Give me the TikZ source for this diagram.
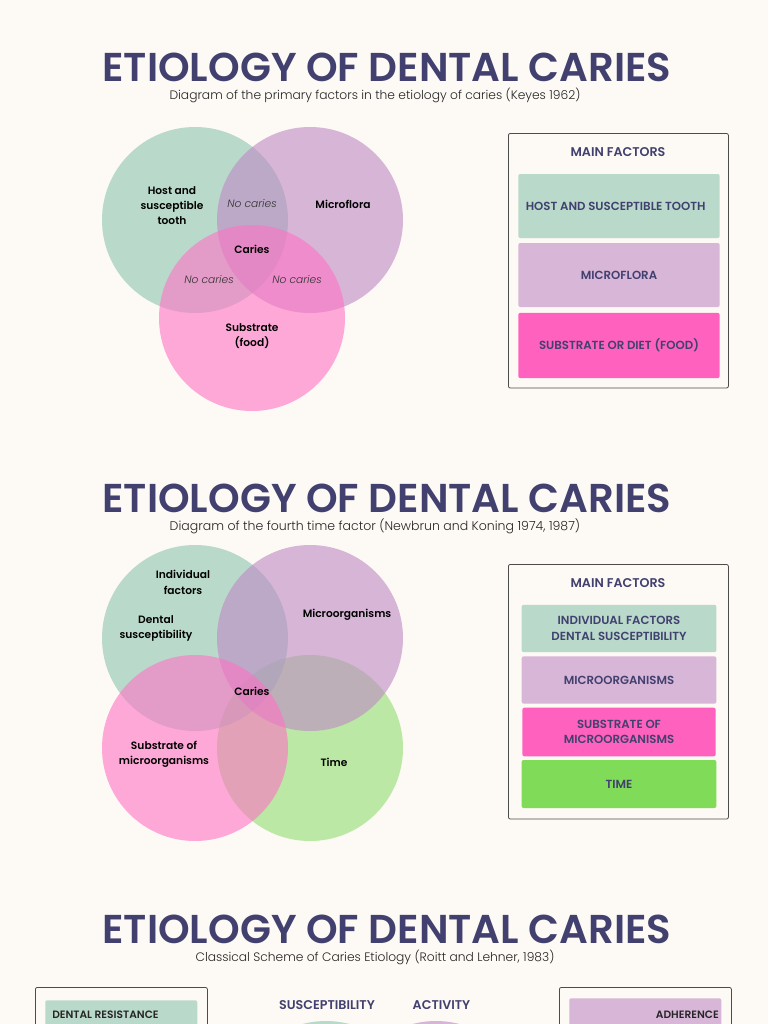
\documentclass[tikz,border=0pt]{standalone}
\usepackage{fontspec}
\setmainfont{Poppins}
\newfontfamily\semifont{Poppins SemiBold}
\newfontfamily\lightfont{Poppins Light}
\usetikzlibrary{positioning}
\definecolor{paper}{HTML}{FDF9F4}
\definecolor{navy}{HTML}{41406F}
\definecolor{teal}{HTML}{B9D9CA}
\definecolor{lilac}{HTML}{D8B6D8}
\definecolor{hotpink}{HTML}{FF62BE}
\definecolor{lime}{HTML}{7FDB58}
\definecolor{tealc}{HTML}{8CC4AE}
\definecolor{lilacc}{HTML}{BF89C5}
\definecolor{pinkc}{HTML}{FF72C5}
\definecolor{limec}{HTML}{8FDD70}
\tikzset{
  titletext/.style={text=navy,inner sep=0pt,text height=20pt,text depth=0pt,font=\semifont\fontsize{30.2}{32}\selectfont},
  subtext/.style={text=black!85,inner sep=0pt,text height=7pt,text depth=2pt,font=\lightfont\fontsize{9.2}{11}\selectfont},
  bubble/.style={circle,minimum size=139.5pt,inner sep=0pt,fill opacity=.6,text opacity=1},
  factorbox/.style={draw=black!70,line width=.6pt,rounded corners=1.5pt,fill=paper,anchor=north west},
  factor/.style={rounded corners=1.5pt,align=center,text=navy,font=\semifont\fontsize{8.8}{11.5}\selectfont,inner sep=0pt},
  head/.style={text=navy,font=\semifont\fontsize{9.5}{10}\selectfont},
  cornerlab/.style={text=black!85,font=\semifont\fontsize{8}{9}\selectfont,inner sep=0pt},
  vennlabel/.style={align=center,text=black,font=\semifont\fontsize{8}{11.5}\selectfont},
  nocaries/.style={text=black!80,font=\lightfont\itshape\fontsize{8}{10}\selectfont}
}
\begin{document}
\begin{tikzpicture}[x=.75pt,y=-.75pt]
  \useasboundingbox (0,0) rectangle (768,1024);
  \fill[paper] (0,0) rectangle (768,1024);

%Titel 1
  \node[titletext] (title1) at (387,68) {ETIOLOGY OF DENTAL CARIES};
  \node[subtext] (sub1) at (375,96) {Diagram of the primary factors in the etiology of caries (Keyes 1962)};

%Cirkler 1
  \node[bubble,fill=tealc] (host) at (195,220) {};
  \node[bubble,fill=lilacc] (micro) at (310,220) {};
  \node[bubble,fill=pinkc] (subs) at (252,318) {};

  \node[vennlabel] (hostlab) at (172,205.5) {Host and\\susceptible\\tooth};
  \node[vennlabel] (microlab) at (343,204) {Microflora};
  \node[vennlabel] (caries1) at (252,249) {Caries};
  \node[vennlabel] (subslab) at (252,336) {Substrate\\(food)};
  \node[nocaries] (no1) at (252,204) {No caries};
  \node[nocaries] (no2) at (209,280) {No caries};
  \node[nocaries] (no3) at (297,280) {No caries};

%Boks 1
  \node[factorbox,minimum width=165pt,minimum height=191pt] (box1) at (508,133) {};
  \node[head] (main1) at (618,152) {MAIN FACTORS};
  \node[factor,fill=teal,minimum width=151pt,minimum height=48pt] (f11) at (619,206) {HOST AND SUSCEPTIBLE TOOTH\hspace*{5pt}};
  \node[factor,fill=lilac,minimum width=151pt,minimum height=48pt] (f12) at (619,275) {MICROFLORA};
  \node[factor,fill=hotpink,minimum width=151pt,minimum height=49pt] (f13) at (619,345.5) {SUBSTRATE OR DIET (FOOD)};

%Titel 2
  \node[titletext] (title2) at (387,499) {ETIOLOGY OF DENTAL CARIES};
  \node[subtext,font=\lightfont\fontsize{9.4}{11}\selectfont] (sub2) at (375,527) {Diagram of the fourth time factor (Newbrun and Koning 1974, 1987)};

%Cirkler 2
  \node[bubble,fill=limec] (time) at (310,748) {};
  \node[bubble,fill=tealc] (indiv) at (195,638) {};
  \node[bubble,fill=lilacc] (orgs) at (310,638) {};
  \node[bubble,fill=pinkc] (subs2) at (195,748) {};

  \node[vennlabel] (indivlab) at (183,582.5) {Individual\\factors};
  \node[vennlabel] (dentlab) at (156,628.5) {Dental\\susceptibility};
  \node[vennlabel] (orgslab) at (347,615) {Microorganisms};
  \node[vennlabel] (caries2) at (252,691) {Caries};
  \node[vennlabel] (subslab2) at (164,754.5) {Substrate of\\microorganisms};
  \node[vennlabel] (timelab) at (334,762) {Time};

%Boks 2
  \node[factorbox,minimum width=165pt,minimum height=191pt] (box2) at (508,564) {};
  \node[head] (main2) at (618,583) {MAIN FACTORS};
  \node[factor,fill=teal,minimum width=146pt,minimum height=35.5pt] (f21) at (619,628.5) {INDIVIDUAL FACTORS\\DENTAL SUSCEPTIBILITY};
  \node[factor,fill=lilac,minimum width=146pt,minimum height=35.5pt] (f22) at (619,680) {MICROORGANISMS};
  \node[factor,fill=hotpink,minimum width=145pt,minimum height=36.5pt] (f23) at (619,732) {SUBSTRATE OF\\MICROORGANISMS};
  \node[factor,fill=lime,minimum width=146pt,minimum height=36pt] (f24) at (619,784) {TIME};

%Titel 3
  \node[titletext] (title3) at (387,930) {ETIOLOGY OF DENTAL CARIES};
  \node[subtext] (sub3) at (375,958) {Classical Scheme of Caries Etiology (Roitt and Lehner, 1983)};

%Nederst
  \node[bubble,fill=tealc] (susc0) at (326,1114) {};
  \node[bubble,fill=lilacc] (activ0) at (436,1114) {};
  \node[head] (susc) at (327,1005) {SUSCEPTIBILITY};
  \node[head] (activ) at (441.5,1005) {ACTIVITY};
  \node[factorbox,minimum width=129pt,minimum height=60pt] (box3) at (35,987) {};
  \node[factor,fill=teal,minimum width=114pt,minimum height=40pt,anchor=north west] (resist) at (45,1000) {};
  \node[cornerlab,anchor=west] (resistlab) at (52,1015) {DENTAL RESISTANCE};
  \node[factorbox,minimum width=129pt,minimum height=60pt] (box4) at (559,987) {};
  \node[factor,fill=lilac,minimum width=114pt,minimum height=40pt,anchor=north west] (adher) at (569,998) {};
  \node[cornerlab,anchor=east] (adherlab) at (719,1015) {ADHERENCE};
\end{tikzpicture}
\end{document}
